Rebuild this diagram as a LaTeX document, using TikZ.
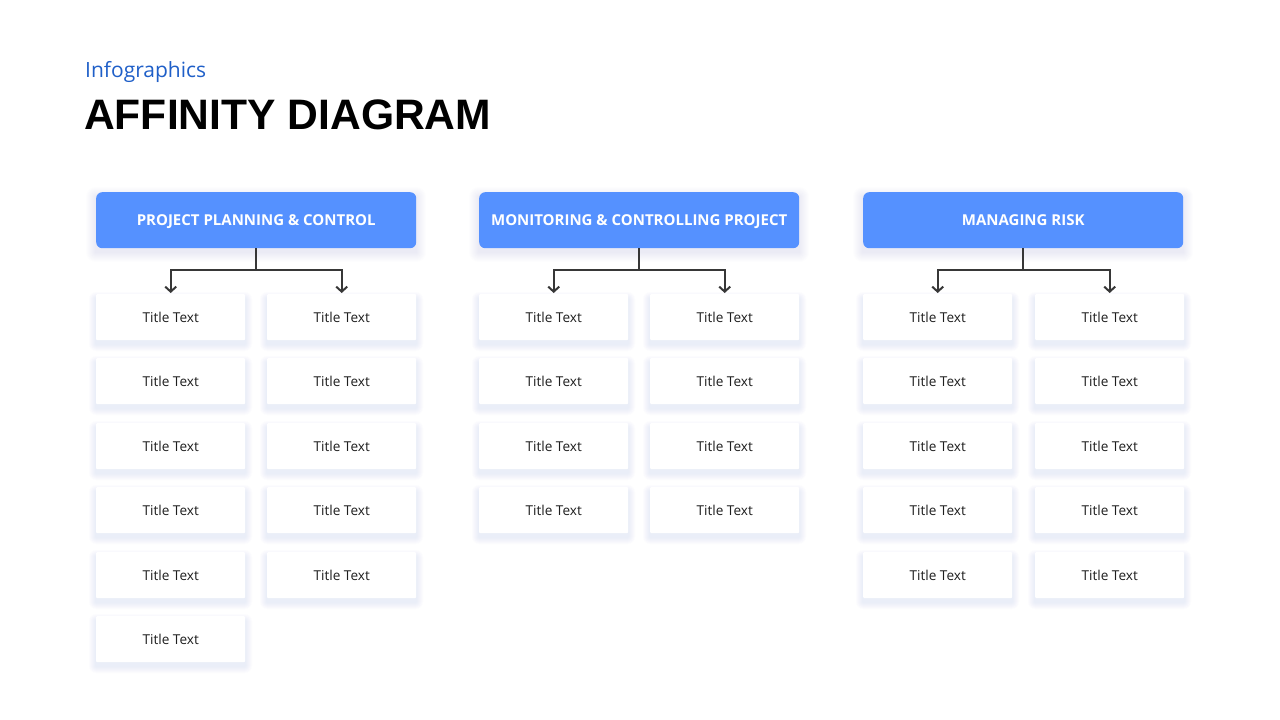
\documentclass[tikz,border=0pt]{standalone}
\usepackage{fontspec}
\setmainfont{Open Sans}
\newfontfamily\titlefont{Liberation Sans}
\usetikzlibrary{arrows.meta}
\definecolor{headblue}{RGB}{85,145,255}
\definecolor{infoblue}{RGB}{31,95,200}
\definecolor{shadowblue}{RGB}{90,120,210}
\definecolor{linegray}{RGB}{55,55,55}
\definecolor{cardtext}{RGB}{30,30,30}
\newcommand{\softshadow}[6]{% x1 y1 x2 y2 layers opacity
  \foreach \i in {1,...,#5}{
    \fill[shadowblue, opacity=#6, rounded corners=\i pt]
      (#1-\i,#2+5-\i) rectangle (#3+\i,#4+4+\i);
  }}
\newcommand{\mkcard}[3]{% name x y
  \softshadow{#2}{#3}{#2+149}{#3+46}{7}{0.016}
  \node[card, anchor=north west] (#1) at (#2,#3) {Title Text};}
\begin{document}
\begin{tikzpicture}[x=1pt,y=-1pt,
  card/.style={fill=white, rounded corners=1pt, minimum width=149pt, minimum height=46pt,
    inner sep=0pt, font=\fontsize{13.6}{16}\selectfont, text=cardtext},
  head/.style={fill=headblue, rounded corners=6pt, minimum width=320pt, minimum height=56pt,
    inner sep=0pt, text height=11pt, text depth=0pt, font=\bfseries\fontsize{15}{18}\selectfont, text=white},
  conn/.style={draw=linegray, line width=2pt},
  arr/.style={conn, -{Straight Barb[length=5pt,width=11pt,line width=2pt]}}]
\useasboundingbox (0,0) rectangle (1280,720);
\fill[white] (0,0) rectangle (1280,720);
\node[anchor=base west, inner sep=0pt, text=infoblue, font=\fontsize{21}{24}\selectfont] (info) at (85,77) {Infographics};
\node[anchor=base west, inner sep=0pt, font=\titlefont\bfseries\fontsize{42.6}{48}\selectfont] (ttl) at (84,129) {AFFINITY DIAGRAM};
% headers
\foreach \hx/\nm/\lab in {96/h1/{PROJECT PLANNING \& CONTROL},479/h2/{MONITORING \& CONTROLLING PROJECT},863/h3/{MANAGING RISK}}{
  \softshadow{\hx}{192}{\hx+320}{248}{10}{0.012}
  \node[head, anchor=north west] (\nm) at (\hx,192) {\lab};
}
% cards
\foreach \r/\ry in {1/294,2/358,3/423,4/487,5/552,6/616}{
  \mkcard{a\r}{96}{\ry}
}
\foreach \r/\ry in {1/294,2/358,3/423,4/487,5/552}{
  \mkcard{b\r}{267}{\ry}
  \mkcard{e\r}{863}{\ry}
  \mkcard{f\r}{1035}{\ry}
}
\foreach \r/\ry in {1/294,2/358,3/423,4/487}{
  \mkcard{c\r}{479}{\ry}
  \mkcard{d\r}{650}{\ry}
}
% connectors
\foreach \h/\l/\rr in {h1/a1/b1,h2/c1/d1,h3/e1/f1}{
  \coordinate (\h j) at ([yshift=-22pt]\h.south);
  \draw[conn] (\h.south) -- (\h j);
  \draw[arr] (\h j) -| ([yshift=1pt]\l.north);
  \draw[arr] (\h j) -| ([yshift=1pt]\rr.north);
}
\end{tikzpicture}
\end{document}
